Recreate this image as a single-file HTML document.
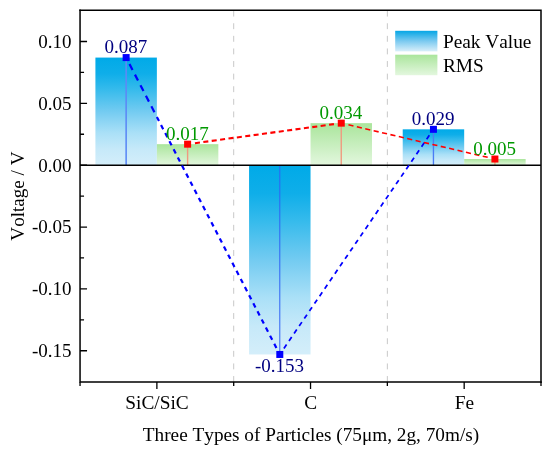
<!DOCTYPE html>
<html><head><meta charset="utf-8"><title>Chart</title>
<style>html,body{margin:0;padding:0;background:#fff}svg{display:block}text{font-kerning:none;font-family:"Liberation Serif","Times New Roman",serif;font-size:19.33px}</style></head>
<body>
<svg width="550" height="454" viewBox="0 0 550 454">
<defs>
<linearGradient id="gp" x1="0" y1="0" x2="0" y2="1"><stop offset="0" stop-color="#00aae8"/><stop offset="0.15" stop-color="#0faee9"/><stop offset="0.3" stop-color="#37bbec"/><stop offset="0.5" stop-color="#73cbf1"/><stop offset="0.7" stop-color="#aae0f7"/><stop offset="0.85" stop-color="#c6e9f9"/><stop offset="1" stop-color="#d4eefa"/></linearGradient>
<linearGradient id="gr" x1="0" y1="0" x2="0" y2="1"><stop offset="0" stop-color="#aae59c"/><stop offset="1" stop-color="#e3f7de"/></linearGradient>
<linearGradient id="gpl" x1="0" y1="0" x2="0" y2="1"><stop offset="0" stop-color="#05a6e5"/><stop offset="0.5" stop-color="#7ccaf0"/><stop offset="1" stop-color="#d9effa"/></linearGradient>
</defs>
<rect width="550" height="454" fill="#fff"/>
<rect x="95.41" y="57.58" width="61.46" height="107.62" fill="url(#gp)"/>
<rect x="156.88" y="144.17" width="61.46" height="21.03" fill="url(#gr)"/>
<rect x="249.07" y="165.20" width="61.46" height="189.26" fill="url(#gp)"/>
<rect x="310.53" y="123.14" width="61.46" height="42.06" fill="url(#gr)"/>
<rect x="402.72" y="129.33" width="61.46" height="35.87" fill="url(#gp)"/>
<rect x="464.18" y="159.01" width="61.46" height="6.19" fill="url(#gr)"/>
<line x1="233.70" y1="10.15" x2="233.70" y2="382.05" stroke="#c8c8c8" stroke-width="1" stroke-dasharray="5.9 6.7" stroke-dashoffset="-0.5"/>
<line x1="387.35" y1="10.15" x2="387.35" y2="382.05" stroke="#c8c8c8" stroke-width="1" stroke-dasharray="5.9 6.7" stroke-dashoffset="-0.5"/>
<line x1="126.14" y1="165.20" x2="126.14" y2="57.58" stroke="#5c8af6" stroke-width="1.6"/>
<line x1="187.61" y1="165.20" x2="187.61" y2="144.17" stroke="#f09a80" stroke-width="1.4"/>
<line x1="279.80" y1="165.20" x2="279.80" y2="354.46" stroke="#2f63f5" stroke-width="1.0"/>
<line x1="341.26" y1="165.20" x2="341.26" y2="123.14" stroke="#f09a80" stroke-width="1.4"/>
<line x1="433.44" y1="165.20" x2="433.44" y2="129.33" stroke="#4a7cf5" stroke-width="1.35"/>
<line x1="494.91" y1="165.20" x2="494.91" y2="159.01" stroke="#f09a80" stroke-width="1.4"/>
<line x1="80.05" y1="165.20" x2="541.00" y2="165.20" stroke="#000" stroke-width="1.35"/>
<path d="M80.05 10.15V382.05H541.00" fill="none" stroke="#000" stroke-width="1.5" stroke-linecap="square"/>
<path d="M80.05 10.15H541.00V382.05" fill="none" stroke="#000" stroke-width="1.5" stroke-linecap="square"/>
<path d="M80.05 350.75h7.00M80.05 319.82h4.00M80.05 288.90h7.00M80.05 257.97h4.00M80.05 227.05h7.00M80.05 196.12h4.00M80.05 165.20h7.00M80.05 134.27h4.00M80.05 103.35h7.00M80.05 72.42h4.00M80.05 41.50h7.00M156.88 382.05v7M310.53 382.05v7M464.18 382.05v7M80.05 382.05v4M233.70 382.05v4M387.35 382.05v4M541.00 382.05v4" fill="none" stroke="#000" stroke-width="1.3"/>
<line x1="129.50" y1="64.06" x2="154.69" y2="112.73" stroke="#0000ff" stroke-width="2.2" stroke-dasharray="6.6 5.3"/>
<line x1="156.85" y1="116.91" x2="276.44" y2="347.98" stroke="#0000ff" stroke-width="2.2" stroke-dasharray="4.663 4.460"/>
<line x1="283.91" y1="348.43" x2="429.33" y2="135.36" stroke="#0000ff" stroke-width="1.75" stroke-dasharray="4.723 4.321"/>
<line x1="194.94" y1="143.17" x2="333.92" y2="124.15" stroke="#ff0000" stroke-width="2.1" stroke-dasharray="5.055 3.403"/>
<line x1="348.46" y1="124.82" x2="487.70" y2="157.33" stroke="#ff0000" stroke-width="1.6" stroke-dasharray="5.150 3.466"/>
<rect x="122.64" y="54.08" width="7" height="7" fill="#0000ff"/>
<rect x="184.11" y="140.67" width="7" height="7" fill="#ff0000"/>
<rect x="276.30" y="350.96" width="7" height="7" fill="#0000ff"/>
<rect x="337.76" y="119.64" width="7" height="7" fill="#ff0000"/>
<rect x="429.94" y="125.83" width="7" height="7" fill="#0000ff"/>
<rect x="491.41" y="155.51" width="7" height="7" fill="#ff0000"/>
<text x="125.84" y="53.28" text-anchor="middle" fill="#000080" style="font-size:19px">0.087</text>
<text x="187.31" y="139.87" text-anchor="middle" fill="#009900" style="font-size:19px">0.017</text>
<text x="279.50" y="371.76" text-anchor="middle" fill="#000080" style="font-size:19px">-0.153</text>
<text x="340.96" y="118.84" text-anchor="middle" fill="#009900" style="font-size:19px">0.034</text>
<text x="433.14" y="125.03" text-anchor="middle" fill="#000080" style="font-size:19px">0.029</text>
<text x="494.61" y="154.71" text-anchor="middle" fill="#009900" style="font-size:19px">0.005</text>
<text x="71.5" y="47.80" text-anchor="end" fill="#000" style="font-size:19px">0.10</text>
<text x="71.5" y="109.65" text-anchor="end" fill="#000" style="font-size:19px">0.05</text>
<text x="71.5" y="171.50" text-anchor="end" fill="#000" style="font-size:19px">0.00</text>
<text x="71.5" y="233.35" text-anchor="end" fill="#000" style="font-size:19px">-0.05</text>
<text x="71.5" y="295.20" text-anchor="end" fill="#000" style="font-size:19px">-0.10</text>
<text x="71.5" y="357.05" text-anchor="end" fill="#000" style="font-size:19px">-0.15</text>
<text x="157.07" y="409.1" text-anchor="middle" fill="#000">SiC/SiC</text>
<text x="310.73" y="409.1" text-anchor="middle" fill="#000">C</text>
<text x="464.38" y="409.1" text-anchor="middle" fill="#000">Fe</text>
<text x="311.02" y="440.5" text-anchor="middle" fill="#000" style="font-size:19.25px">Three Types of Particles (75μm, 2g, 70m/s)</text>
<text transform="translate(24.4 196.10) rotate(-90)" text-anchor="middle" fill="#000" style="font-size:19.1px">Voltage / V</text>
<rect x="395.2" y="30.8" width="42.2" height="20.6" fill="url(#gpl)"/>
<rect x="395.2" y="54.7" width="42.2" height="20.5" fill="url(#gr)"/>
<text x="442.9" y="48.1" fill="#000">Peak Value</text>
<text x="442.9" y="71.9" fill="#000">RMS</text>
</svg></body></html>
